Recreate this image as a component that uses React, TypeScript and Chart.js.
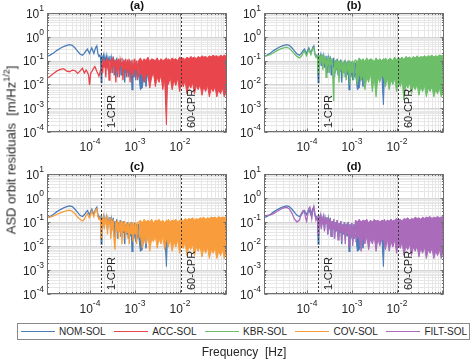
import React, { useEffect, useRef } from "react";
import { Chart, registerables } from "chart.js";
Chart.register(...registerables);

const W = 474;
const H = 361;
const FONT = '"Liberation Sans", Arial, Helvetica, sans-serif';

const X_MIN = 1.11e-5;
const X_MAX = 0.111;
const Y_MIN = 1e-4;
const Y_MAX = 10;
const X_TICKS = [1e-4, 1e-3, 1e-2];
const Y_TICKS = [1e-4, 1e-3, 1e-2, 1e-1, 1, 10];
const CPR_LINES = [
  { f: 1.76e-4, label: "1-CPR" },
  { f: 1.058e-2, label: "60-CPR" },
];

// frequency grids [Hz]
const FREQ_LO = [1.11e-5, 1.3e-5, 1.55e-5, 1.85e-5, 2.2e-5, 2.6e-5, 3.05e-5, 3.55e-5, 4.05e-5, 4.65e-5, 5.3e-5, 6.0e-5, 6.8e-5, 7.5e-5, 8.2e-5, 8.8e-5, 9.3e-5, 9.8e-5, 1.04e-4, 1.1e-4, 1.16e-4, 1.22e-4, 1.28e-4, 1.35e-4, 1.42e-4, 1.5e-4, 1.58e-4, 1.66e-4, 1.72e-4];
const FREQ_MID = [1.78e-4, 1.84e-4, 1.92e-4, 2.0e-4, 2.08e-4, 2.16e-4, 2.25e-4, 2.35e-4, 2.45e-4, 2.55e-4, 2.66e-4, 2.78e-4, 2.9e-4, 3.03e-4, 3.16e-4, 3.3e-4, 3.45e-4, 3.6e-4, 3.76e-4, 3.93e-4, 4.1e-4, 4.3e-4, 4.5e-4, 4.7e-4, 4.9e-4, 5.15e-4, 5.4e-4, 5.65e-4, 5.9e-4, 6.2e-4, 6.5e-4, 6.8e-4, 7.1e-4, 7.45e-4, 7.8e-4, 8.2e-4, 8.6e-4, 9.0e-4, 9.45e-4, 9.9e-4, 1.04e-3, 1.09e-3, 1.14e-3];
const FREQ_HI = [1.2e-3, 1.32e-3, 1.45e-3, 1.6e-3, 1.76e-3, 1.94e-3, 2.13e-3, 2.35e-3, 2.58e-3, 2.84e-3, 3.12e-3, 3.43e-3, 3.78e-3, 4.15e-3, 4.57e-3, 5.0e-3, 5.3e-3, 5.55e-3, 6.1e-3, 6.7e-3, 7.4e-3, 8.1e-3, 8.9e-3, 9.8e-3, 1.08e-2, 1.19e-2, 1.3e-2, 1.43e-2, 1.58e-2, 1.74e-2, 1.91e-2, 2.1e-2, 2.31e-2, 2.54e-2, 2.8e-2, 3.08e-2, 3.38e-2, 3.72e-2, 4.1e-2, 4.5e-2, 4.95e-2, 5.45e-2, 6.0e-2, 6.6e-2, 7.25e-2, 7.98e-2, 8.8e-2, 9.65e-2, 0.104, 0.111];

// NOM-SOL
const NOM_LO = [0.15, 0.17, 0.21, 0.27, 0.33, 0.39, 0.44, 0.47, 0.44, 0.34, 0.25, 0.19, 0.17, 0.2, 0.26, 0.3, 0.24, 0.2, 0.27, 0.34, 0.26, 0.2, 0.27, 0.36, 0.41, 0.2, 0.15, 0.17, 0.13];
const NOM_MID = [0.012, 0.15, 0.11, 0.16, 0.06, 0.14, 0.09, 0.15, 0.05, 0.13, 0.1, 0.16, 0.03, 0.12, 0.07, 0.15, 0.025, 0.11, 0.05, 0.13, 0.02, 0.1, 0.04, 0.12, 0.025, 0.09, 0.035, 0.11, 0.012, 0.08, 0.03, 0.1, 0.02, 0.085, 0.025, 0.1, 0.006, 0.08, 0.02, 0.09, 0.015, 0.08, 0.02];
const NOM_UP = [0.08, 0.09, 0.07, 0.09, 0.08, 0.09, 0.07, 0.08, 0.09, 0.07, 0.09, 0.08, 0.09, 0.07, 0.08, 0.09, 0.08, 0.09, 0.07, 0.09, 0.08, 0.09, 0.08, 0.1, 0.09, 0.1, 0.08, 0.1, 0.09, 0.11, 0.1, 0.11, 0.09, 0.11, 0.1, 0.12, 0.1, 0.11, 0.1, 0.12, 0.11, 0.12, 0.11, 0.12, 0.11, 0.13, 0.12, 0.13, 0.12, 0.13];
const NOM_LOW = [0.03, 0.006, 0.007, 0.03, 0.008, 0.04, 0.035, 0.045, 0.035, 0.04, 0.03, 0.04, 0.035, 0.045, 0.035, 0.0014, 0.035, 0.04, 0.03, 0.045, 0.035, 0.04, 0.03, 0.04, 0.035, 0.045, 0.03, 0.04, 0.035, 0.045, 0.035, 0.04, 0.03, 0.045, 0.035, 0.04, 0.03, 0.04, 0.035, 0.045, 0.035, 0.04, 0.03, 0.045, 0.035, 0.04, 0.035, 0.045, 0.04, 0.045];

// ACC-SOL
const ACC_LO = [0.018, 0.022, 0.029, 0.037, 0.043, 0.046, 0.036, 0.034, 0.04, 0.038, 0.029, 0.036, 0.048, 0.03, 0.04, 0.032, 0.025, 0.0095, 0.03, 0.034, 0.042, 0.05, 0.056, 0.045, 0.035, 0.029, 0.022, 0.03, 0.04];
const ACC_MID = [0.04, 0.08, 0.03, 0.12, 0.05, 0.1, 0.02, 0.13, 0.06, 0.11, 0.015, 0.1, 0.05, 0.12, 0.03, 0.14, 0.06, 0.1, 0.012, 0.11, 0.05, 0.12, 0.02, 0.1, 0.06, 0.13, 0.015, 0.1, 0.04, 0.12, 0.02, 0.11, 0.05, 0.12, 0.012, 0.1, 0.03, 0.11, 0.02, 0.12, 0.04, 0.1, 0.015];
const ACC_UP = [0.1, 0.13, 0.09, 0.12, 0.1, 0.14, 0.09, 0.12, 0.11, 0.1, 0.13, 0.09, 0.12, 0.1, 0.11, 0.13, 0.1, 0.12, 0.1, 0.13, 0.11, 0.12, 0.1, 0.14, 0.12, 0.13, 0.11, 0.14, 0.12, 0.15, 0.13, 0.14, 0.12, 0.15, 0.13, 0.16, 0.14, 0.15, 0.13, 0.16, 0.14, 0.17, 0.15, 0.16, 0.14, 0.17, 0.15, 0.17, 0.16, 0.17];
const ACC_LOW = [0.02, 0.03, 0.025, 0.012, 0.028, 0.025, 0.007, 0.02, 0.03, 0.008, 0.02, 0.012, 0.025, 0.006, 0.018, 0.0002, 0.02, 0.01, 0.02, 0.006, 0.015, 0.009, 0.018, 0.005, 0.012, 0.008, 0.015, 0.004, 0.01, 0.007, 0.012, 0.004, 0.009, 0.006, 0.01, 0.0035, 0.008, 0.005, 0.009, 0.003, 0.007, 0.005, 0.008, 0.003, 0.006, 0.004, 0.007, 0.003, 0.005, 0.004];

// KBR-SOL
const KBR_LO = [0.15, 0.16, 0.18, 0.22, 0.27, 0.31, 0.34, 0.36, 0.33, 0.25, 0.19, 0.15, 0.13, 0.15, 0.21, 0.25, 0.19, 0.16, 0.22, 0.29, 0.24, 0.18, 0.24, 0.33, 0.36, 0.18, 0.14, 0.16, 0.12];
const KBR_MID = [0.03, 0.17, 0.08, 0.14, 0.1, 0.18, 0.04, 0.13, 0.09, 0.15, 0.02, 0.12, 0.08, 0.14, 0.03, 0.11, 0.07, 0.13, 0.02, 0.002, 0.1, 0.03, 0.11, 0.05, 0.1, 0.012, 0.09, 0.04, 0.1, 0.02, 0.09, 0.03, 0.11, 0.015, 0.08, 0.04, 0.1, 0.01, 0.09, 0.03, 0.1, 0.015, 0.09];
const KBR_UP = [0.11, 0.09, 0.13, 0.1, 0.12, 0.09, 0.13, 0.1, 0.12, 0.11, 0.09, 0.13, 0.1, 0.12, 0.1, 0.12, 0.11, 0.13, 0.1, 0.12, 0.12, 0.1, 0.14, 0.11, 0.13, 0.12, 0.14, 0.11, 0.15, 0.13, 0.14, 0.12, 0.15, 0.13, 0.16, 0.13, 0.15, 0.14, 0.16, 0.14, 0.16, 0.15, 0.17, 0.14, 0.16, 0.15, 0.17, 0.16, 0.17, 0.16];
const KBR_LOW = [0.025, 0.01, 0.03, 0.015, 0.025, 0.006, 0.02, 0.012, 0.03, 0.005, 0.02, 0.003, 0.02, 0.012, 0.025, 0.02, 0.015, 0.008, 0.02, 0.006, 0.015, 0.01, 0.018, 0.005, 0.012, 0.008, 0.015, 0.0022, 0.01, 0.007, 0.012, 0.004, 0.009, 0.006, 0.01, 0.0035, 0.008, 0.005, 0.009, 0.003, 0.007, 0.005, 0.008, 0.003, 0.006, 0.004, 0.007, 0.003, 0.005, 0.004];

// COV-SOL
const COV_LO = [0.15, 0.16, 0.18, 0.21, 0.24, 0.27, 0.3, 0.31, 0.28, 0.22, 0.16, 0.13, 0.11, 0.13, 0.19, 0.22, 0.17, 0.15, 0.2, 0.28, 0.22, 0.17, 0.24, 0.33, 0.36, 0.17, 0.13, 0.15, 0.11];
const COV_MID = [0.02, 0.14, 0.09, 0.15, 0.05, 0.13, 0.1, 0.15, 0.03, 0.12, 0.08, 0.14, 0.02, 0.1, 0.06, 0.13, 0.015, 0.007, 0.11, 0.04, 0.12, 0.02, 0.1, 0.05, 0.11, 0.012, 0.1, 0.04, 0.11, 0.02, 0.09, 0.035, 0.1, 0.012, 0.09, 0.03, 0.1, 0.015, 0.085, 0.03, 0.1, 0.012, 0.09];
const COV_UP = [0.1, 0.12, 0.09, 0.13, 0.1, 0.12, 0.1, 0.13, 0.09, 0.12, 0.11, 0.13, 0.1, 0.12, 0.09, 0.12, 0.11, 0.13, 0.1, 0.12, 0.11, 0.13, 0.1, 0.12, 0.13, 0.11, 0.14, 0.12, 0.14, 0.13, 0.15, 0.12, 0.14, 0.13, 0.15, 0.14, 0.16, 0.13, 0.15, 0.14, 0.16, 0.15, 0.16, 0.14, 0.17, 0.15, 0.16, 0.15, 0.17, 0.16];
const COV_LOW = [0.02, 0.03, 0.008, 0.025, 0.012, 0.03, 0.006, 0.02, 0.015, 0.025, 0.008, 0.02, 0.012, 0.025, 0.007, 0.02, 0.015, 0.009, 0.02, 0.006, 0.015, 0.009, 0.018, 0.005, 0.012, 0.008, 0.015, 0.004, 0.01, 0.007, 0.012, 0.004, 0.009, 0.006, 0.01, 0.0035, 0.008, 0.005, 0.009, 0.003, 0.007, 0.005, 0.008, 0.003, 0.006, 0.004, 0.007, 0.003, 0.005, 0.004];

// FILT-SOL
const FILT_LO = [0.18, 0.19, 0.2, 0.23, 0.28, 0.34, 0.39, 0.41, 0.35, 0.23, 0.13, 0.1, 0.12, 0.22, 0.3, 0.27, 0.15, 0.11, 0.2, 0.36, 0.42, 0.26, 0.14, 0.3, 0.44, 0.22, 0.12, 0.15, 0.11];
const FILT_MID = [0.03, 0.2, 0.1, 0.17, 0.05, 0.15, 0.11, 0.16, 0.04, 0.14, 0.09, 0.15, 0.03, 0.12, 0.07, 0.14, 0.025, 0.11, 0.05, 0.13, 0.02, 0.1, 0.045, 0.12, 0.018, 0.09, 0.04, 0.11, 0.015, 0.08, 0.035, 0.1, 0.012, 0.085, 0.03, 0.1, 0.01, 0.08, 0.025, 0.09, 0.01, 0.08, 0.02];
const FILT_UP = [0.12, 0.1, 0.13, 0.1, 0.12, 0.11, 0.13, 0.09, 0.12, 0.1, 0.13, 0.11, 0.12, 0.1, 0.12, 0.11, 0.13, 0.1, 0.12, 0.11, 0.13, 0.11, 0.12, 0.14, 0.12, 0.13, 0.11, 0.14, 0.13, 0.15, 0.12, 0.14, 0.13, 0.16, 0.14, 0.15, 0.13, 0.16, 0.14, 0.16, 0.15, 0.17, 0.14, 0.16, 0.15, 0.17, 0.15, 0.16, 0.17, 0.16];
const FILT_LOW = [0.015, 0.025, 0.02, 0.006, 0.03, 0.012, 0.025, 0.007, 0.02, 0.012, 0.025, 0.006, 0.02, 0.01, 0.018, 0.02, 0.012, 0.007, 0.02, 0.006, 0.015, 0.009, 0.018, 0.005, 0.012, 0.008, 0.015, 0.004, 0.01, 0.007, 0.012, 0.004, 0.009, 0.006, 0.01, 0.0035, 0.008, 0.005, 0.009, 0.003, 0.007, 0.005, 0.008, 0.003, 0.006, 0.004, 0.007, 0.003, 0.005, 0.004];

type Series = { name: string; color: string; lo: number[]; mid: number[]; up: number[]; low: number[] };

const NOM: Series = { name: "NOM-SOL", color: "#4a7db8", lo: NOM_LO, mid: NOM_MID, up: NOM_UP, low: NOM_LOW };
const ACC: Series = { name: "ACC-SOL", color: "#e8464c", lo: ACC_LO, mid: ACC_MID, up: ACC_UP, low: ACC_LOW };
const KBR: Series = { name: "KBR-SOL", color: "#6cbe69", lo: KBR_LO, mid: KBR_MID, up: KBR_UP, low: KBR_LOW };
const COV: Series = { name: "COV-SOL", color: "#f99d3c", lo: COV_LO, mid: COV_MID, up: COV_UP, low: COV_LOW };
const FILT: Series = { name: "FILT-SOL", color: "#a96bba", lo: FILT_LO, mid: FILT_MID, up: FILT_UP, low: FILT_LOW };
const LEGEND_SERIES = [NOM, ACC, KBR, COV, FILT];

const PANELS = [
  { title: "(a)", series: ACC, area: { left: 47, top: 13, right: 227, bottom: 132 } },
  { title: "(b)", series: KBR, area: { left: 264, top: 13, right: 444, bottom: 132 } },
  { title: "(c)", series: COV, area: { left: 47, top: 174, right: 227, bottom: 294 } },
  { title: "(d)", series: FILT, area: { left: 264, top: 174, right: 444, bottom: 294 } },
];

const pts = (xs: number[], ys: number[]) => xs.map((x, i) => ({ x, y: ys[i] }));

function seriesDatasets(s: Series, order: number) {
  const line = [...pts(FREQ_LO, s.lo), ...pts(FREQ_MID, s.mid), { x: FREQ_HI[0], y: s.up[0] }];
  const common = { borderColor: s.color, pointRadius: 0, tension: 0, order };
  return [
    { ...common, label: s.name, data: line, borderWidth: 1.3, fill: false },
    { ...common, label: s.name + " hi", data: pts(FREQ_HI, s.up), borderWidth: 1, fill: false },
    { ...common, label: s.name + " lo", data: pts(FREQ_HI, s.low), borderWidth: 1, fill: "-1", backgroundColor: s.color },
  ];
}

const AXIS_COLOR = "#707070";
const TEXT_COLOR = "#262626";

function drawPow(ctx: CanvasRenderingContext2D, exp: number, x: number, y: number, align: "right" | "center") {
  const base = "10";
  const sup = String(exp);
  ctx.font = `12px ${FONT}`;
  const bw = ctx.measureText(base).width;
  ctx.font = `8.5px ${FONT}`;
  const sw = ctx.measureText(sup).width;
  const total = bw + sw;
  const sx = align === "right" ? x - total : x - total / 2;
  ctx.textAlign = "left";
  ctx.textBaseline = "middle";
  ctx.fillStyle = TEXT_COLOR;
  ctx.font = `12px ${FONT}`;
  ctx.fillText(base, sx, y + 1.5);
  ctx.font = `8.5px ${FONT}`;
  ctx.fillText(sup, sx + bw, y - 4);
}

function makePlugin(title: string) {
  return {
    id: "panelDecor",
    beforeDatasetsDraw(chart: any) {
      const { ctx, chartArea: a, scales } = chart;
      const xs = scales.x;
      const ys = scales.y;
      ctx.save();
      ctx.fillStyle = "#ffffff";
      ctx.fillRect(a.left, a.top, a.right - a.left, a.bottom - a.top);
      ctx.lineWidth = 1;
      ctx.strokeStyle = "#e7e7e7";
      ctx.beginPath();
      for (let e = -5; e <= -1; e++) {
        for (let m = 2; m <= 9; m++) {
          const v = m * Math.pow(10, e);
          if (v <= X_MIN || v >= X_MAX) continue;
          const px = Math.round(xs.getPixelForValue(v)) + 0.5;
          ctx.moveTo(px, a.top);
          ctx.lineTo(px, a.bottom);
        }
      }
      for (let e = -4; e <= 0; e++) {
        for (let m = 2; m <= 9; m++) {
          const v = m * Math.pow(10, e);
          const py = Math.round(ys.getPixelForValue(v)) + 0.5;
          ctx.moveTo(a.left, py);
          ctx.lineTo(a.right, py);
        }
      }
      ctx.stroke();
      ctx.strokeStyle = "#d6d6d6";
      ctx.beginPath();
      for (const v of X_TICKS) {
        const px = Math.round(xs.getPixelForValue(v)) + 0.5;
        ctx.moveTo(px, a.top);
        ctx.lineTo(px, a.bottom);
      }
      for (const v of Y_TICKS) {
        const py = Math.round(ys.getPixelForValue(v)) + 0.5;
        ctx.moveTo(a.left, py);
        ctx.lineTo(a.right, py);
      }
      ctx.stroke();
      ctx.restore();
    },
    afterDatasetsDraw(chart: any) {
      const { ctx, chartArea: a, scales } = chart;
      const xs = scales.x;
      const ys = scales.y;
      ctx.save();
      ctx.strokeStyle = "#3a3a3a";
      ctx.lineWidth = 1;
      ctx.setLineDash([2, 2]);
      for (const c of CPR_LINES) {
        const px = Math.round(xs.getPixelForValue(c.f)) + 0.5;
        ctx.beginPath();
        ctx.moveTo(px, a.top);
        ctx.lineTo(px, a.bottom);
        ctx.stroke();
      }
      ctx.setLineDash([]);
      ctx.fillStyle = TEXT_COLOR;
      ctx.font = `11px ${FONT}`;
      for (const c of CPR_LINES) {
        const px = xs.getPixelForValue(c.f);
        ctx.save();
        ctx.translate(px + 14, a.bottom - 4);
        ctx.rotate(-Math.PI / 2);
        ctx.textAlign = "left";
        ctx.textBaseline = "alphabetic";
        ctx.fillText(c.label, 0, 0);
        ctx.restore();
      }
      ctx.strokeStyle = AXIS_COLOR;
      ctx.lineWidth = 1;
      const L = Math.round(a.left) + 0.5;
      const R = Math.round(a.right) - 0.5;
      const T = Math.round(a.top) + 0.5;
      const B = Math.round(a.bottom) - 0.5;
      ctx.strokeRect(L, T, R - L, B - T);
      ctx.beginPath();
      for (let e = -5; e <= -1; e++) {
        for (let m = 1; m <= 9; m++) {
          const v = m * Math.pow(10, e);
          if (v <= X_MIN || v >= X_MAX) continue;
          const len = m === 1 ? 3 : 1.5;
          const px = Math.round(xs.getPixelForValue(v)) + 0.5;
          ctx.moveTo(px, B);
          ctx.lineTo(px, B - len);
          ctx.moveTo(px, T);
          ctx.lineTo(px, T + len);
        }
      }
      for (let e = -4; e <= 0; e++) {
        for (let m = 1; m <= 9; m++) {
          const v = m * Math.pow(10, e);
          const len = m === 1 ? 3 : 1.5;
          const py = Math.round(ys.getPixelForValue(v)) + 0.5;
          ctx.moveTo(L, py);
          ctx.lineTo(L + len, py);
          ctx.moveTo(R, py);
          ctx.lineTo(R - len, py);
        }
      }
      ctx.stroke();
      for (const v of Y_TICKS) {
        drawPow(ctx, Math.round(Math.log10(v)), a.left - 3, ys.getPixelForValue(v), "right");
      }
      for (const v of X_TICKS) {
        drawPow(ctx, Math.round(Math.log10(v)), xs.getPixelForValue(v), a.bottom + 14, "center");
      }
      ctx.font = `bold 11.5px ${FONT}`;
      ctx.textAlign = "center";
      ctx.textBaseline = "alphabetic";
      ctx.fillStyle = "#111";
      ctx.fillText(title, (a.left + a.right) / 2, a.top - 4);
      ctx.restore();
    },
  };
}

function Panel({ panel }: { panel: (typeof PANELS)[number] }) {
  const ref = useRef<HTMLCanvasElement | null>(null);
  useEffect(() => {
    if (!ref.current) return;
    const a = panel.area;
    const chart = new Chart(ref.current, {
      type: "line",
      data: { datasets: [...seriesDatasets(panel.series, 0), ...seriesDatasets(NOM, 1)] as any },
      options: {
        responsive: false,
        animation: false,
        devicePixelRatio: 1,
        events: [],
        layout: { padding: { left: a.left, top: a.top, right: W - a.right, bottom: H - a.bottom } },
        plugins: { legend: { display: false }, tooltip: { enabled: false }, title: { display: false } },
        scales: {
          x: { type: "logarithmic", min: X_MIN, max: X_MAX, display: false },
          y: { type: "logarithmic", min: Y_MIN, max: Y_MAX, display: false },
        },
      } as any,
      plugins: [makePlugin(panel.title)],
    });
    return () => chart.destroy();
  }, [panel]);
  return <canvas ref={ref} width={W} height={H} style={{ position: "absolute", left: 0, top: 0, width: W, height: H }} />;
}

export default function App() {
  return (
    <div
      style={{
        position: "absolute",
        left: 0,
        top: 0,
        width: W,
        height: H,
        background: "#fff",
        overflow: "hidden",
        fontFamily: FONT,
        color: TEXT_COLOR,
      }}
    >
      {PANELS.map((p) => (
        <Panel key={p.title} panel={p} />
      ))}
      <div
        style={{
          position: "absolute",
          left: 11,
          top: 150,
          transform: "translate(-50%, -50%) rotate(-90deg)",
          whiteSpace: "pre",
          fontSize: 13,
          lineHeight: "15px",
        }}
      >
        {"ASD orbit residuals  [m/Hz"}
        <sup style={{ fontSize: 9, lineHeight: 0, verticalAlign: "6px" }}>1/2</sup>
        {"]"}
      </div>
      <div
        style={{
          position: "absolute",
          left: 244,
          top: 352,
          transform: "translate(-50%, -50%)",
          whiteSpace: "pre",
          fontSize: 12,
          lineHeight: "14px",
        }}
      >
        {"Frequency  [Hz]"}
      </div>
      <div
        style={{
          position: "absolute",
          left: 17,
          top: 323,
          width: 453,
          height: 17,
          boxSizing: "border-box",
          border: "1px solid #8a8a8a",
          background: "#fff",
          display: "flex",
          alignItems: "center",
          justifyContent: "space-between",
          padding: "0 2px 0 3px",
          fontSize: 10,
          lineHeight: "12px",
        }}
      >
        {LEGEND_SERIES.map((s) => (
          <div key={s.name} style={{ display: "flex", alignItems: "center", whiteSpace: "nowrap" }}>
            <span style={{ display: "inline-block", width: 34, height: 0, borderTop: `1px solid ${s.color}`, marginRight: 4 }} />
            <span>{s.name}</span>
          </div>
        ))}
      </div>
    </div>
  );
}
